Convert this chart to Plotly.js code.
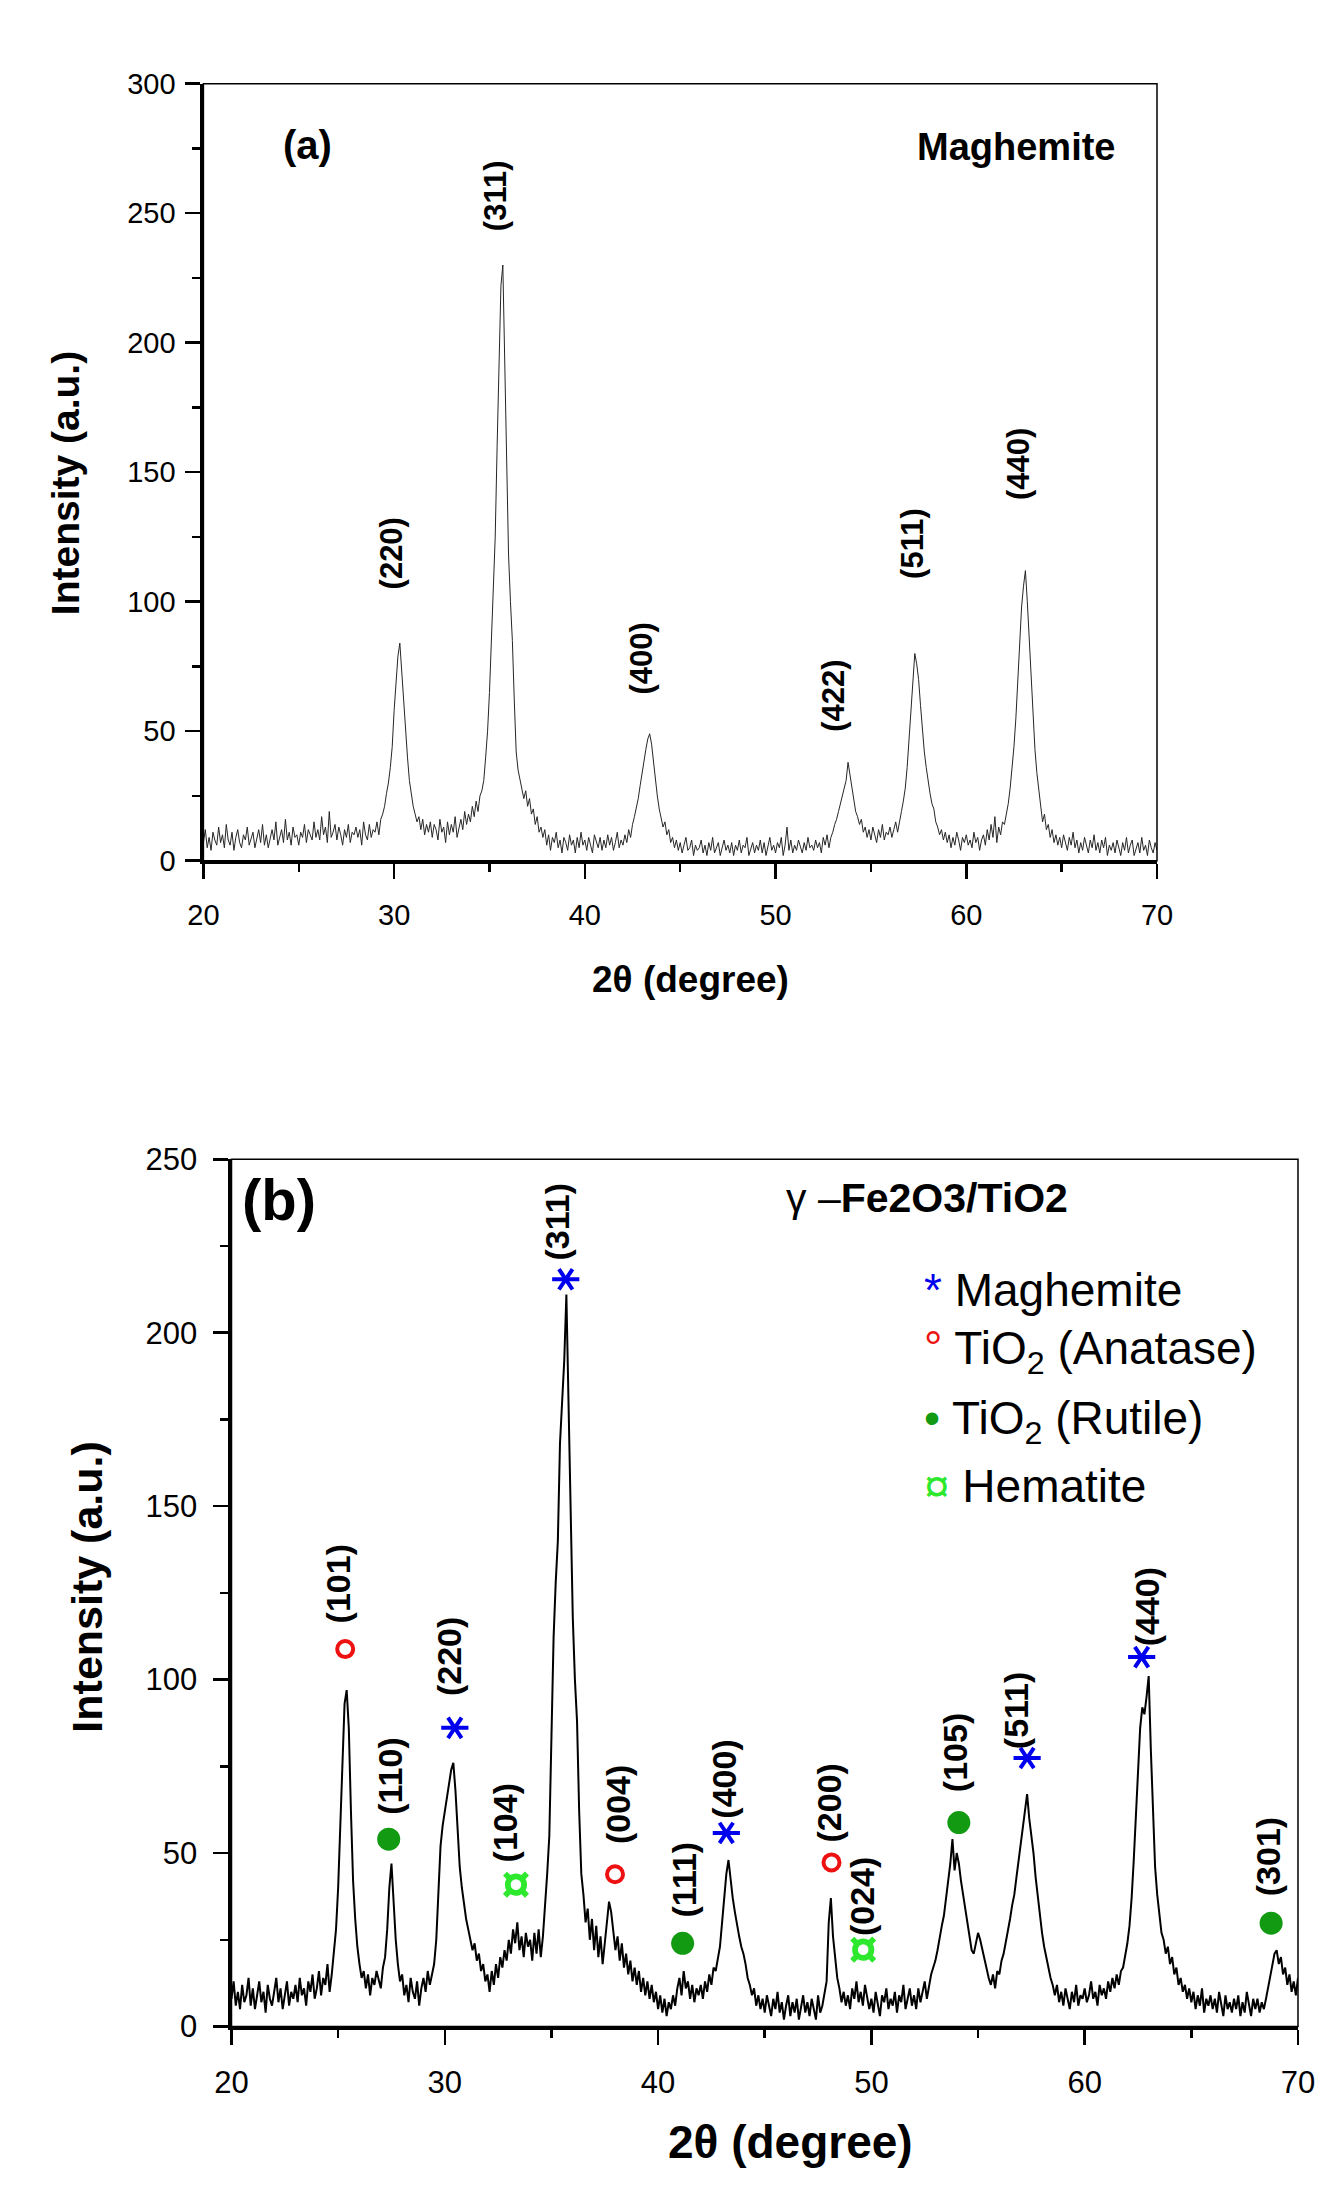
<!DOCTYPE html>
<html>
<head>
<meta charset="utf-8">
<script src="https://cdn.plot.ly/plotly-3.0.1.min.js"></script>
<style>html,body{margin:0;padding:0;background:#fff}</style>
</head>
<body>
<div id="chart" style="width:1329px;height:2200px"></div>
<script>
// 2θ scan: start angle and step (degrees), shared by both patterns
const scanStart = 20;
const scanStep = 0.1;

// (a) maghemite pattern, counts from 20.0° to 70.0°
const maghemiteCounts = [
  7,12,5,9,4,11,8,6,13,7,
  10,5,14,8,6,11,4,9,12,7,
  5,10,8,13,6,9,11,5,8,12,
  7,14,6,10,5,9,12,8,15,6,
  9,12,7,16,8,11,6,13,9,10,
  6,11,9,14,7,12,10,8,15,9,
  12,8,17,10,13,7,19,9,11,14,
  8,13,10,6,12,9,14,7,11,10,
  13,9,12,6,15,10,8,14,9,12,
  11,15,10,16,18,21,26,30,36,44,
  58,70,79,84,72,63,48,40,31,26,
  21,18,15,17,12,16,10,14,11,15,
  9,14,12,8,16,11,13,7,15,10,
  14,11,17,9,13,16,12,19,14,18,
  15,21,17,23,19,25,27,31,40,50,
  65,85,100,125,160,195,222,230,190,150,
  118,100,85,62,42,35,31,28,24,27,
  21,24,18,20,14,17,11,13,9,12,
  6,10,4,9,7,11,5,8,3,9,
  7,4,10,6,8,3,9,5,11,6,
  8,4,9,6,3,10,7,5,9,4,
  8,5,10,6,9,4,7,11,5,8,
  6,10,7,12,9,14,17,20,24,29,
  34,39,43,47,49,45,38,33,25,20,
  17,13,15,10,12,7,9,5,8,4,
  7,3,6,9,4,5,8,2,6,4,
  5,8,3,6,2,7,4,9,3,5,
  7,2,5,8,4,6,3,7,2,6,
  4,8,3,6,5,9,2,5,7,3,
  6,4,8,3,7,2,5,9,4,6,
  3,7,5,9,2,6,13,4,8,3,
  6,4,8,5,3,7,4,9,5,6,
  4,8,5,7,3,9,6,10,5,9,
  11,14,16,19,22,25,28,31,38,33,
  28,24,19,17,14,16,11,13,9,12,
  8,13,10,7,12,9,14,8,11,10,
  13,9,12,15,11,16,19,23,28,36,
  47,60,72,80,76,70,60,50,42,36,
  30,26,22,20,15,13,10,12,8,11,
  7,10,5,9,6,11,8,4,9,7,
  10,6,8,5,11,7,9,4,8,10,
  6,12,8,14,9,17,7,13,10,15,
  14,18,22,28,35,44,55,70,85,98,
  106,112,100,86,68,54,43,34,28,21,
  15,18,12,14,9,12,7,10,6,9,
  5,10,7,4,9,6,11,5,8,3,
  7,4,9,6,3,8,5,10,4,7,
  3,8,5,9,2,6,4,7,3,8,
  5,2,7,4,9,3,6,8,2,5,
  7,3,9,4,6,2,8,5,3,7,
  4
];

// (b) γ-Fe2O3/TiO2 pattern, counts from 20.0° to 70.0°
const compositeCounts = [
  8,13,6,10,5,12,7,9,14,6,
  11,5,9,13,7,10,4,12,8,6,
  10,14,7,11,5,9,13,6,10,8,
  12,7,14,9,11,6,13,10,15,8,
  11,16,9,14,12,18,10,15,22,28,
  40,58,78,93,97,86,62,42,31,23,
  18,14,16,11,15,9,14,12,16,13,
  11,17,20,28,40,47,36,25,18,13,
  15,9,12,7,14,10,8,13,6,11,
  14,10,16,12,15,18,25,38,52,58,
  62,66,70,74,76,68,57,46,40,35,
  31,28,25,22,24,19,21,16,18,13,
  15,10,16,12,18,14,20,17,22,19,
  25,21,28,24,30,22,26,20,27,23,
  25,19,27,21,28,20,26,34,44,55,
  88,112,128,140,168,182,192,211,180,150,
  118,100,88,62,44,38,30,34,25,31,
  22,29,20,26,18,24,30,36,33,27,
  22,26,19,24,17,21,15,19,13,17,
  12,16,10,14,9,13,8,12,7,10,
  5,9,4,8,3,7,5,9,6,11,
  14,9,16,11,13,8,12,7,11,9,
  12,8,13,10,15,12,17,16,19,23,
  30,38,44,48,42,37,33,29,26,23,
  21,18,14,12,9,11,6,9,5,8,
  4,9,6,3,8,5,10,4,7,2,
  6,9,3,7,4,8,2,6,9,4,
  7,3,8,5,2,9,4,6,10,13,
  30,37,26,20,14,11,7,10,6,9,
  5,11,8,13,7,10,6,12,9,5,
  8,4,10,6,3,9,7,11,5,8,
  6,10,4,9,7,12,5,8,11,6,
  9,5,11,7,10,13,8,12,15,17,
  19,22,26,29,32,37,42,47,54,45,
  50,47,42,38,34,29,26,22,21,24,
  27,25,22,19,17,14,12,15,11,16,
  15,19,21,24,27,31,35,38,43,48,
  53,58,63,67,60,55,50,43,37,32,
  27,23,20,16,14,12,9,12,7,10,
  6,11,8,5,10,7,12,6,9,8,
  11,7,9,13,8,10,6,12,9,11,
  8,13,10,14,11,15,12,16,17,20,
  24,29,37,48,60,72,86,92,90,95,
  101,80,60,46,38,32,27,25,21,23,
  18,20,15,17,12,14,10,12,8,11,
  7,10,5,9,6,11,4,8,6,9,
  5,8,4,10,6,3,9,5,7,4,
  8,5,9,3,7,4,10,6,3,8,
  5,8,4,7,5,8,11,14,18,21,
  22,18,20,15,17,12,15,10,13,9,
  14
];

// (a) Miller indices of the maghemite reflections and where each is written
const maghemiteHkl = ['(220)', '(311)', '(400)', '(422)', '(511)', '(440)'];
const maghemiteHklX = [29.87, 35.32, 42.98, 53.07, 57.18, 62.74];
const maghemiteHklY = [118.5, 256.8, 77.9, 63.7, 122.5, 153];

// (b) phase markers
const maghemiteMarkX = [30.47, 35.67, 43.2, 57.3, 62.67];
const maghemiteMarkY = [86.1, 215.4, 55.8, 77.4, 106.5];
const anataseMarkX = [25.33, 37.98, 48.13];
const anataseMarkY = [108.8, 43.9, 47.3];
const rutileMarkX = [27.37, 41.15, 54.1, 68.74];
const rutileMarkY = [54.0, 24.0, 58.8, 29.8];
const hematiteMarkX = [33.34, 49.62];
const hematiteMarkY = [39.9, 21.3];

// (b) Miller indices and label positions
const compositeHkl = ['(101)', '(110)', '(220)', '(104)', '(311)', '(004)', '(111)',
                      '(400)', '(200)', '(024)', '(105)', '(511)', '(440)', '(301)'];
const compositeHklX = [25.0, 27.45, 30.23, 32.8, 35.28, 38.1, 41.2,
                       43.05, 48.03, 49.59, 53.92, 56.75, 62.9, 68.58];
const compositeHklY = [127.5, 72.4, 106.7, 58.7, 232.2, 64, 42.3,
                       71.2, 64.4, 37.5, 78.8, 91.3, 121, 49];

// phase key entries
const phaseNames = ['Maghemite', 'TiO<sub>2</sub> (Anatase)', 'TiO<sub>2</sub> (Rutile)', 'Hematite'];
const phaseGlyphs = ['*', '°', '•', '¤'];

const FONT = 'Liberation Sans, Arial, Helvetica, sans-serif';
const BLUE = '#0000ee', RED = '#ee1111', GREEN = '#139a13', LIME = '#2ee82e';
const phaseColors = [BLUE, RED, GREEN, LIME];

function axis(opts) {
  return {
    domain: opts.domain, range: opts.range, anchor: opts.anchor,
    tick0: opts.range[0], dtick: opts.dtick,
    ticks: 'outside', ticklen: 15, tickwidth: 2.5, tickcolor: '#000',
    showline: true, linewidth: 3, linecolor: '#000', mirror: false,
    showgrid: false, zeroline: false, fixedrange: true,
    tickfont: {family: FONT, size: opts.tickSize, color: '#000'},
    ticklabelstandoff: opts.labelGap,
    minor: {ticks: 'outside', ticklen: 8, tickwidth: 2.5, tickcolor: '#000', dtick: opts.minor, showgrid: false},
    title: {text: opts.title, standoff: opts.titleGap,
            font: {family: FONT, size: opts.titleSize, color: '#000', weight: 'bold'}}
  };
}

const traces = [
  {type: 'scatter', mode: 'lines', xaxis: 'x', yaxis: 'y',
   x0: scanStart, dx: scanStep, y: maghemiteCounts,
   line: {color: '#262626', width: 1}, hoverinfo: 'skip'},
  {type: 'scatter', mode: 'lines', xaxis: 'x2', yaxis: 'y2',
   x0: scanStart, dx: scanStep, y: compositeCounts,
   line: {color: '#000', width: 2}, hoverinfo: 'skip'},
  {type: 'scatter', mode: 'markers', xaxis: 'x2', yaxis: 'y2',
   x: anataseMarkX, y: anataseMarkY,
   marker: {symbol: 'circle-open', size: 16, color: RED, line: {width: 4, color: RED}}},
  {type: 'scatter', mode: 'markers', xaxis: 'x2', yaxis: 'y2',
   x: rutileMarkX, y: rutileMarkY,
   marker: {symbol: 'circle', size: 23, color: GREEN, line: {width: 0}}},
  {type: 'scatter', mode: 'markers', xaxis: 'x2', yaxis: 'y2',
   x: maghemiteMarkX, y: maghemiteMarkY,
   marker: {symbol: 'y-left-open', size: 17, color: BLUE, line: {width: 4, color: BLUE}}},
  {type: 'scatter', mode: 'markers', xaxis: 'x2', yaxis: 'y2',
   x: maghemiteMarkX, y: maghemiteMarkY,
   marker: {symbol: 'y-right-open', size: 17, color: BLUE, line: {width: 4, color: BLUE}}},
  {type: 'scatter', mode: 'text', xaxis: 'x2', yaxis: 'y2',
   x: hematiteMarkX, y: hematiteMarkY, text: hematiteMarkX.map(() => '¤'),
   textposition: 'middle center',
   textfont: {family: FONT, size: 52, color: LIME, weight: 'bold'}}
];

function hklNotes(labels, xs, ys, xref, yref, size) {
  return labels.map((t, i) => ({
    text: t, x: xs[i], y: ys[i], xref: xref, yref: yref,
    showarrow: false, textangle: -90, xanchor: 'center', yanchor: 'middle',
    font: {family: FONT, size: size, color: '#000', weight: 'bold'}
  }));
}

function paperText(text, px, py, size, opts) {
  return Object.assign({
    text: text, x: px / 1329, y: 1 - py / 2200, xref: 'paper', yref: 'paper',
    showarrow: false, xanchor: 'center', yanchor: 'middle',
    font: {family: FONT, size: size, color: '#000'}
  }, opts || {});
}

const phaseTops = [1262, 1319.5, 1389.5, 1458];
const keyNotes = phaseNames.map((name, i) => paperText(
  '<span style="color:' + phaseColors[i] + '">' + phaseGlyphs[i] + '</span> ' + name,
  922, phaseTops[i], 46, {xanchor: 'left', yanchor: 'top'}));

const annotations = [
  paperText('(a)', 307, 144.8, 40, {font: {family: FONT, size: 40, color: '#000', weight: 'bold'}}),
  paperText('Maghemite', 1016, 146.8, 38, {font: {family: FONT, size: 38, color: '#000', weight: 'bold'}}),
  paperText('(b)', 279, 1199, 58, {font: {family: FONT, size: 58, color: '#000', weight: 'bold'}}),
  paperText('γ –<b>Fe2O3/TiO2</b>', 784, 1197.8, 41, {xanchor: 'left'})
].concat(keyNotes,
  hklNotes(maghemiteHkl, maghemiteHklX, maghemiteHklY, 'x', 'y', 31),
  hklNotes(compositeHkl, compositeHklX, compositeHklY, 'x2', 'y2', 34));

const frame = (xr, yr) => ({type: 'rect', xref: xr + ' domain', yref: yr + ' domain',
  x0: 0, x1: 1, y0: 0, y1: 1, line: {color: '#000', width: 1.5}, layer: 'above'});

const layout = {
  width: 1329, height: 2200,
  margin: {l: 0, r: 0, t: 0, b: 0},
  paper_bgcolor: '#fff', plot_bgcolor: '#fff',
  showlegend: false,
  font: {family: FONT, color: '#000'},
  xaxis: axis({domain: [0.15305, 0.87058], range: [20, 70], anchor: 'y', dtick: 10, minor: 5,
               tickSize: 29, labelGap: 11, title: '&nbsp;&nbsp;2θ (degree)', titleSize: 37, titleGap: 37}),
  yaxis: axis({domain: [0.60877, 0.96195], range: [0, 300], anchor: 'x', dtick: 50, minor: 25,
               tickSize: 29, labelGap: 4, title: 'Intensity (a.u.)&nbsp;&nbsp;', titleSize: 39, titleGap: 36}),
  xaxis2: axis({domain: [0.17419, 0.97667], range: [20, 70], anchor: 'y2', dtick: 10, minor: 5,
                tickSize: 31, labelGap: 11, title: '&nbsp;&nbsp;&nbsp;&nbsp;2θ (degree)', titleSize: 46, titleGap: 28}),
  yaxis2: axis({domain: [0.07886, 0.47305], range: [0, 250], anchor: 'x2', dtick: 50, minor: 25,
                tickSize: 31, labelGap: 10, title: '&nbsp;Intensity (a.u.)', titleSize: 43, titleGap: 30}),
  shapes: [frame('x', 'y'), frame('x2', 'y2')],
  annotations: annotations
};

Plotly.newPlot('chart', traces, layout, {staticPlot: true, displayModeBar: false});
</script>
</body>
</html>
